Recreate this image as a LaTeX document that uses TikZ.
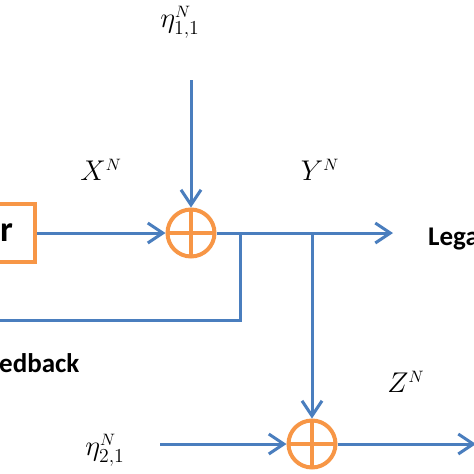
\documentclass[tikz,border=0pt]{standalone}
\usepackage{fontspec}
\setsansfont{Carlito}
\usepackage{tikz}
\usetikzlibrary{arrows.meta, positioning}
\definecolor{sigblue}{RGB}{74,126,190}
\definecolor{sumorange}{RGB}{247,150,70}
\newcommand{\siglab}[1]{\scalebox{1.65}{$#1$}}
\tikzset{
  sumnode/.style={circle, draw=sumorange, line width=4pt,
    minimum size=47pt, inner sep=0pt,
    path picture={\draw[sumorange, line width=4pt]
      (path picture bounding box.north) -- (path picture bounding box.south)
      (path picture bounding box.west) -- (path picture bounding box.east);}},
  encbox/.style={rectangle, draw=sumorange, line width=4pt,
    text width=50pt, align=right, inner xsep=22pt, minimum height=58pt,
    font=\sffamily\bfseries\fontsize{36}{40}\selectfont},
  sig/.style={-{Straight Barb[length=15pt, width=20pt]}, draw=sigblue, line width=3pt},
  wire/.style={draw=sigblue, line width=3pt},
  mlabel/.style={font=\fontsize{17.28}{20}\selectfont, inner sep=0pt},
  tlabel/.style={font=\sffamily\bfseries\fontsize{27}{30}\selectfont, inner sep=0pt}
}

\begin{document}
\begin{tikzpicture}[x=1pt, y=-1pt]
  \useasboundingbox (0,0) rectangle (474,474);

  % Blocks
  \node[encbox, anchor=east] (enc) at (37,233) {r};
  \node[sumnode] (sum1) at (191,233) {};
  \node[sumnode] (sum2) at (312,444) {};

  % Labels
  \node[mlabel] (eta1) at (180,22) {\siglab{\eta_{1,1}^{\scriptscriptstyle N}}};
  \node[mlabel] (lblx) at (101,170) {\siglab{X^{\scriptscriptstyle N}}};
  \node[mlabel] (lbly) at (320,170) {\siglab{Y^{\scriptscriptstyle N}}};
  \node[mlabel] (lblz) at (406,382) {\siglab{Z^{\scriptscriptstyle N}}};
  \node[mlabel] (eta2) at (105,450) {\siglab{\eta_{2,1}^{\scriptscriptstyle N}}};
  \node[tlabel, anchor=base west] (legal) at (428,245) {Lega};
  \node[tlabel, anchor=base west] (fback) at (-1,372) {edback};

  % Free ends and taps
  \coordinate (n1in) at (191,80);
  \coordinate (n2in) at (160,444);
  \coordinate (yout) at (393,233);
  \coordinate (zout) at (476,444);
  \coordinate (tapfb) at (240,233);
  \coordinate (tapz) at (312,233);
  \coordinate (fbend) at (-5,320);

  % Connectors
  \draw[sig] (n1in) -- (sum1.north);
  \draw[sig] (enc.east) -- (sum1.west);
  \draw[sig] (sum1.east) -- (yout);
  \draw[wire] (tapfb) |- (fbend);
  \draw[sig] (tapz) -- (sum2.north);
  \draw[sig] (n2in) -- (sum2.west);
  \draw[sig] (sum2.east) -- (zout);

\end{tikzpicture}
\end{document}
